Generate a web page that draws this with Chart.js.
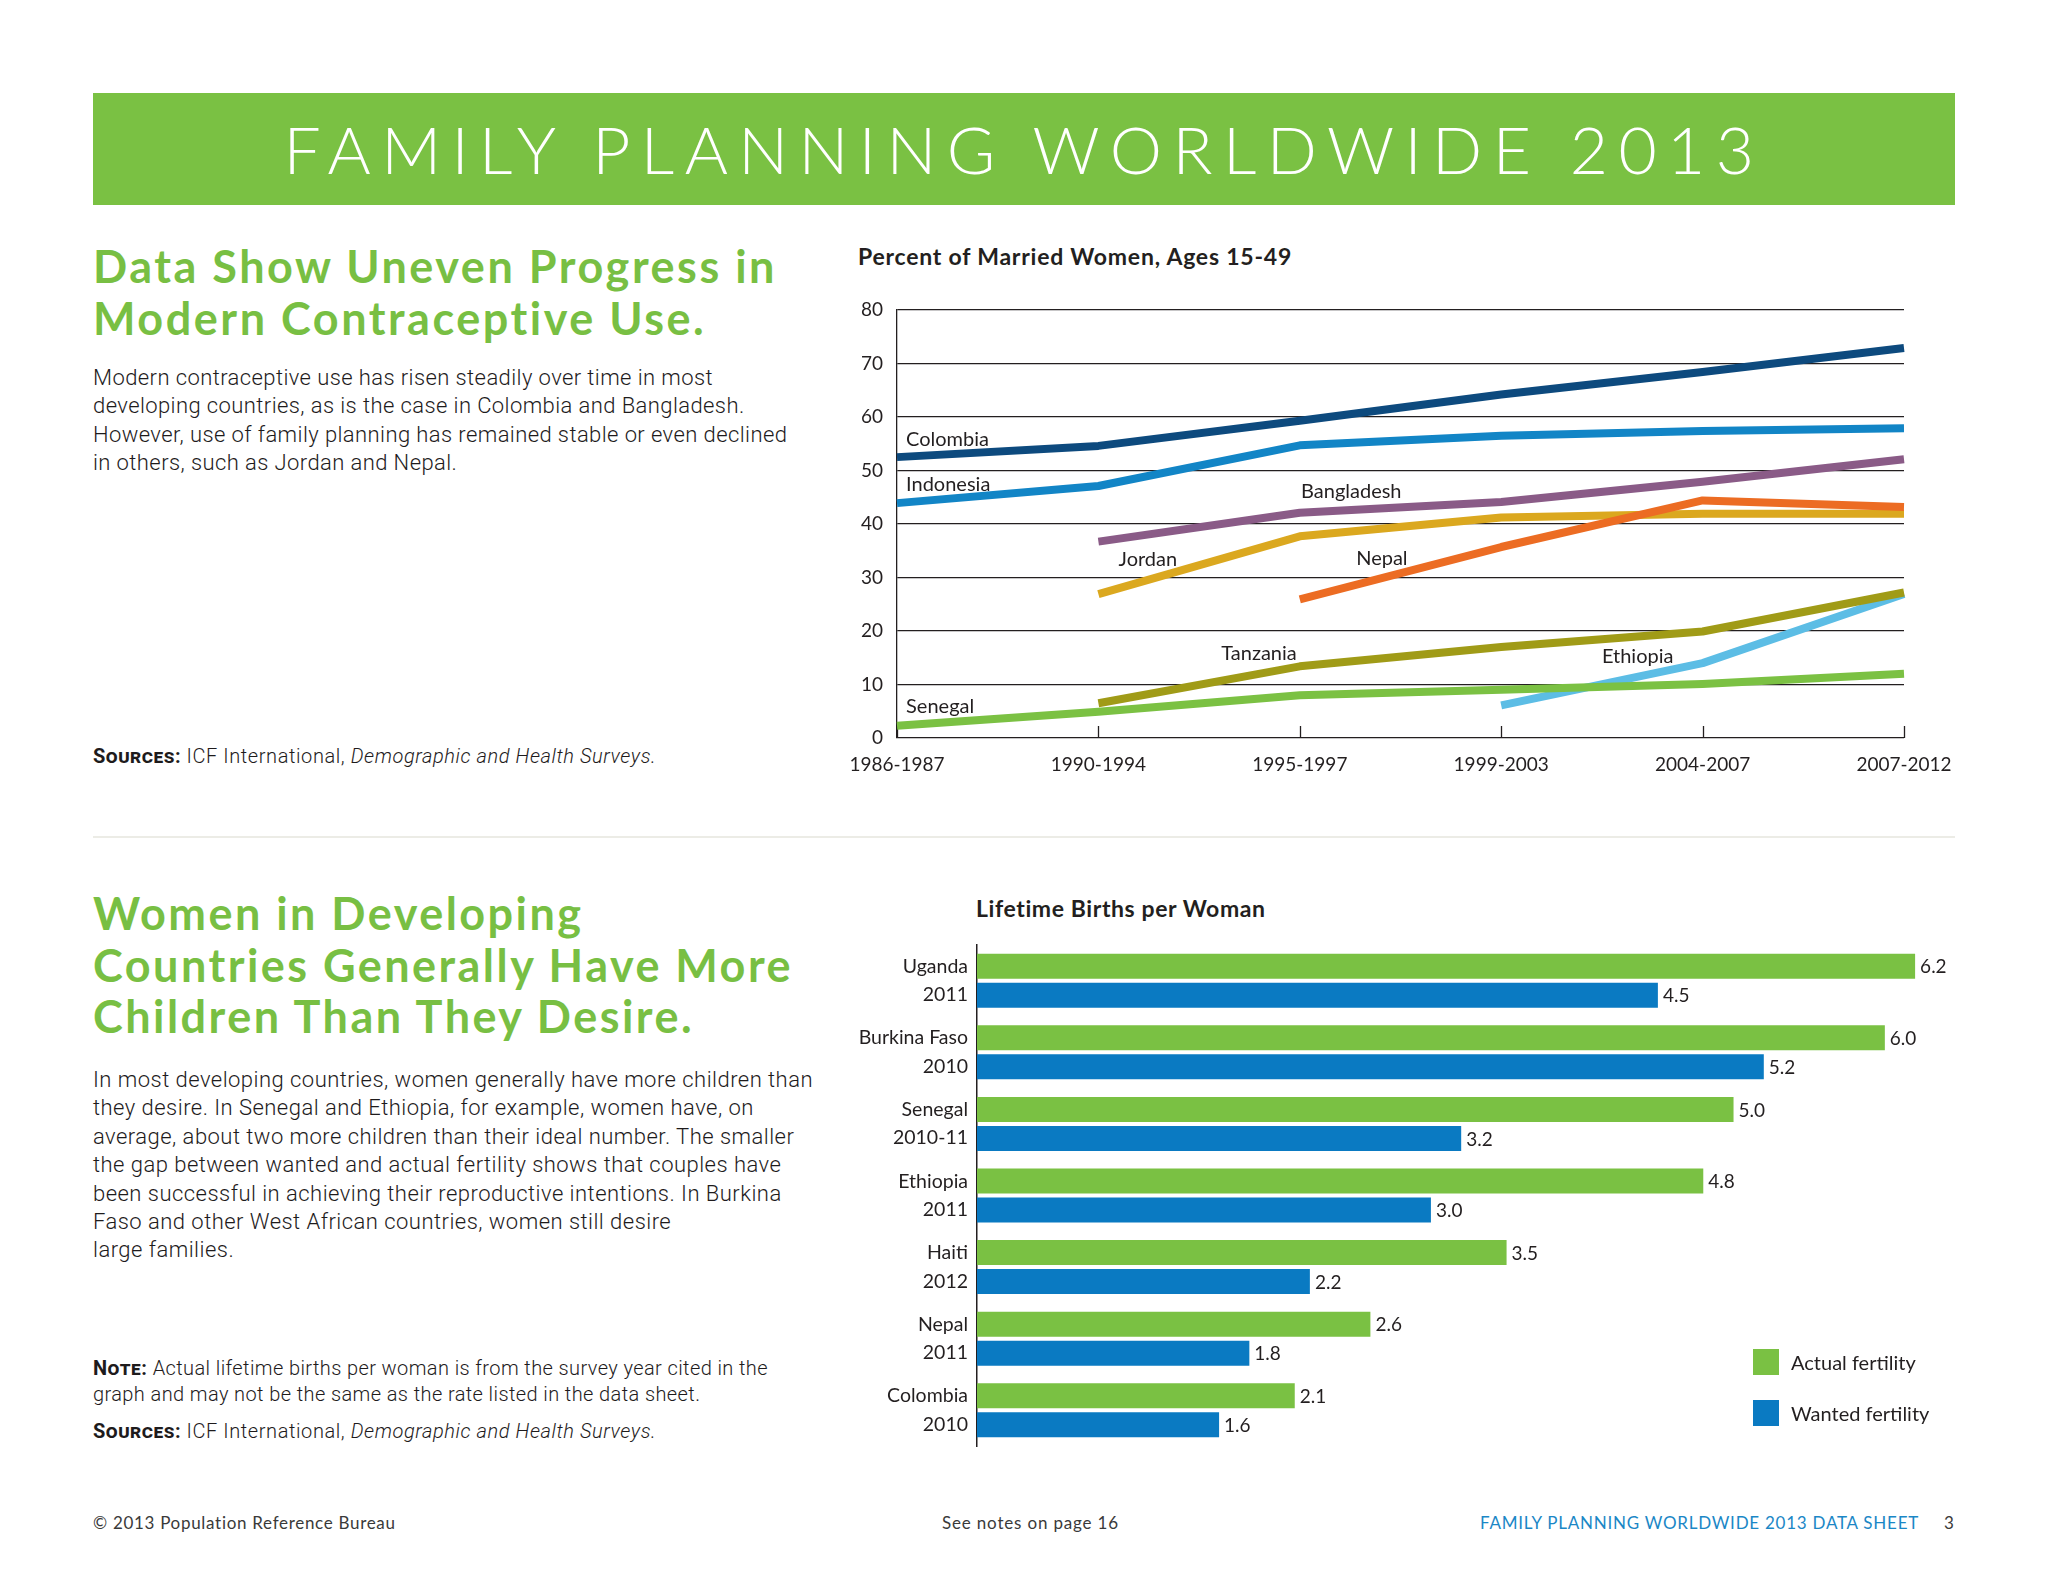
<!DOCTYPE html>
<html>
<head>
<meta charset="utf-8">
<title>Family Planning Worldwide 2013</title>
<script src="https://cdn.jsdelivr.net/npm/chart.js@4.4.2/dist/chart.umd.min.js"></script>
<style>
  html, body { margin: 0; padding: 0; background: #fff; }
  body { width: 2048px; height: 1582px; position: relative; overflow: hidden; color: #231f20; }
  .abs { position: absolute; white-space: nowrap; }
  .banner { left: 93px; top: 93px; width: 1862px; height: 112px; background: #7ac143; }
  .banner-text { left: 93px; width: 1862px; top: 105px; text-align: center; font: 300 66px/88px Lato, sans-serif; color: #fff; }
  .head { font: 700 45px/52px Lato, sans-serif; color: #78bf43; }
  .body { font: 300 22px/28.4px Roboto, "Liberation Sans", sans-serif; color: #1e1b1c; }
  .small { font: 300 20px/26px Roboto, "Liberation Sans", sans-serif; color: #1e1b1c; }
  .sc { font-variant: small-caps; font-weight: 700; letter-spacing: 0.5px; }
  .rule { left: 93px; top: 836px; width: 1862px; height: 2px; background: #ecece6; }
  .ctitle { font: 700 23px/30px Lato, sans-serif; color: #231f20; }
  .foot { font: 17px/24px Lato, sans-serif; color: #3a3a3a; }
  .swatch { width: 26px; height: 26px; }
  .legend { font: 20px/26px Lato, sans-serif; color: #231f20; }
  canvas { position: absolute; }
</style>
</head>
<body>
<div class="abs banner"></div>
<div class="abs banner-text" data-fit="1481"><span class="fit">FAMILY PLANNING WORLDWIDE 2013</span></div>

<div class="abs head" style="left:93px; top:240px;" data-fit="684"><span class="fit">Data Show Uneven Progress in</span><br>Modern Contraceptive Use.</div>
<div class="abs body" style="left:93px; top:364px;" data-fit="620"><span class="fit">Modern contraceptive use has risen steadily over time in most</span><br>developing countries, as is the case in Colombia and Bangladesh.<br>However, use of family planning has remained stable or even declined<br>in others, such as Jordan and Nepal.</div>
<div class="abs small" style="left:93px; top:743px;" data-fit="568"><span class="fit"><span class="sc">Sources:</span> ICF International, <i>Demographic and Health Surveys.</i></span></div>

<div class="abs ctitle" style="left:858px; top:241px;" data-fit="434"><span class="fit">Percent of Married Women, Ages 15-49</span></div>
<canvas id="lineChart" width="1150" height="510" style="left:820px; top:280px;"></canvas>

<div class="abs rule"></div>

<div class="abs head" style="left:93px; top:888px; line-height:51.5px;" data-fit="700">Women in Developing<br><span class="fit">Countries Generally Have More</span><br>Children Than They Desire.</div>
<div class="abs body" style="left:93px; top:1066px;" data-fit="720"><span class="fit">In most developing countries, women generally have more children than</span><br>they desire. In Senegal and Ethiopia, for example, women have, on<br>average, about two more children than their ideal number. The smaller<br>the gap between wanted and actual fertility shows that couples have<br>been successful in achieving their reproductive intentions. In Burkina<br>Faso and other West African countries, women still desire<br>large families.</div>
<div class="abs small" style="left:93px; top:1355px;" data-fit="677"><span class="fit"><span class="sc">Note:</span> Actual lifetime births per woman is from the survey year cited in the</span><br>graph and may not be the same as the rate listed in the data sheet.</div>
<div class="abs small" style="left:93px; top:1418px;" data-fit="568"><span class="fit"><span class="sc">Sources:</span> ICF International, <i>Demographic and Health Surveys.</i></span></div>

<div class="abs ctitle" style="left:976px; top:893px;" data-fit="290"><span class="fit">Lifetime Births per Woman</span></div>
<canvas id="barChart" width="1130" height="591" style="left:840px; top:900px;"></canvas>

<div class="abs swatch" style="left:1753px; top:1349px; background:#7ac143;"></div>
<div class="abs legend" style="left:1791px; top:1349px;">Actual fertility</div>
<div class="abs swatch" style="left:1753px; top:1400px; background:#0a7ac2;"></div>
<div class="abs legend" style="left:1791px; top:1400px;">Wanted fertility</div>

<div class="abs foot" style="left:93px; top:1511px;" data-fit="303"><span class="fit">© 2013 Population Reference Bureau</span></div>
<div class="abs foot" style="left:942px; top:1511px;" data-fit="177"><span class="fit">See notes on page 16</span></div>
<div class="abs foot" style="left:1480px; top:1511px; color:#1b87c6;" data-fit="439"><span class="fit">FAMILY PLANNING WORLDWIDE 2013 DATA SHEET</span></div>
<div class="abs foot" style="left:1944px; top:1511px;">3</div>

<script>
// --- Données : courbes (% de femmes mariées 15-49 ans) ---
const periods = ['1986-1987', '1990-1994', '1995-1997', '1999-2003', '2004-2007', '2007-2012'];
const colombia   = [52.5, 54.6, 59.3, 64.2, 68.4, 72.9];
const indonesia  = [43.9, 47.1, 54.7, 56.5, 57.4, 57.9];
const bangladesh = [null, 36.7, 42.1, 44.1, 47.9, 52.1];
const jordan     = [null, 26.9, 37.7, 41.2, 41.9, 41.9];
const nepal      = [null, null, 25.9, 35.7, 44.4, 43.2];
const tanzania   = [null, 6.5, 13.4, 17.0, 19.9, 27.2];
const ethiopia   = [null, null, null, 6.1, 14.0, 26.9];
const senegal    = [2.3, 4.9, 8.0, 9.0, 10.1, 12.0];
const percentMin = 0;
const percentMax = 80;
const percentStep = 10;

// --- Données : barres (naissances par femme) ---
const barCountries = [
    ['Uganda', '2011'], ['Burkina Faso', '2010'], ['Senegal', '2010-11'], ['Ethiopia', '2011'],
    ['Haiti', '2012'], ['Nepal', '2011'], ['Colombia', '2010']
];
const actualFertility = [6.2, 6.0, 5.0, 4.8, 3.5, 2.6, 2.1];
const wantedFertility = [4.5, 5.2, 3.2, 3.0, 2.2, 1.8, 1.6];
const seriesNames = ['Actual fertility', 'Wanted fertility'];

// Étiquettes posées dans le graphique (en unités des axes)
const lineLabels = [
    { text: 'Colombia', x: 0.045, y: 55.7 },
    { text: 'Indonesia', x: 0.045, y: 47.3 },
    { text: 'Bangladesh', x: 2.006, y: 46.0 },
    { text: 'Jordan', x: 1.10, y: 33.3 },
    { text: 'Nepal', x: 2.28, y: 33.6 },
    { text: 'Tanzania', x: 1.61, y: 15.7 },
    { text: 'Ethiopia', x: 3.50, y: 15.3 },
    { text: 'Senegal', x: 0.045, y: 5.8 }
];

const INK = '#231f20';
Chart.defaults.font.family = 'Lato';
Chart.defaults.color = INK;

// ajuste l'espacement des lettres pour caler la largeur des textes
document.querySelectorAll('[data-fit]').forEach(el => {
    const line = el.querySelector('.fit');
    const w = line.getBoundingClientRect().width;
    const n = line.textContent.length;
    el.style.letterSpacing = ((+el.dataset.fit - w) / n) + 'px';
});

const lineExtras = {
    id: 'lineExtras',
    beforeDatasetsDraw(chart) {
        const { ctx, scales: { x, y } } = chart;
        const base = y.getPixelForValue(0);
        ctx.save();
        ctx.strokeStyle = INK;
        ctx.lineWidth = 1.3;
        periods.forEach((p, i) => {
            const px = Math.round(x.getPixelForTick(i)) + 0.5;
            ctx.beginPath();
            ctx.moveTo(px, base);
            ctx.lineTo(px, base - 12);
            ctx.stroke();
        });
        ctx.restore();
    },
    afterDatasetsDraw(chart) {
        const { ctx, scales: { x, y } } = chart;
        ctx.save();
        ctx.font = '20px Lato';
        ctx.fillStyle = INK;
        ctx.textBaseline = 'middle';
        lineLabels.forEach(l => ctx.fillText(l.text, x.getPixelForValue(l.x), y.getPixelForValue(l.y)));
        ctx.restore();
    }
};

function lineSet(label, data, color) {
    return {
        label, data, borderColor: color, backgroundColor: color,
        borderWidth: 8, pointRadius: 0, tension: 0,
        borderCapStyle: 'butt', borderJoinStyle: 'round'
    };
}

new Chart(document.getElementById('lineChart'), {
    type: 'line',
    data: {
        labels: periods,
        datasets: [
            lineSet('Nepal', nepal, '#ec6c23'),
            lineSet('Colombia', colombia, '#0d4a7e'),
            lineSet('Indonesia', indonesia, '#1285c6'),
            lineSet('Bangladesh', bangladesh, '#8a5b87'),
            lineSet('Jordan', jordan, '#dba81f'),
            lineSet('Tanzania', tanzania, '#a09b17'),
            lineSet('Senegal', senegal, '#7bc143'),
            lineSet('Ethiopia', ethiopia, '#5cbde5')
        ]
    },
    options: {
        responsive: false,
        animation: false,
        layout: { padding: { left: 0, top: 30, right: 66, bottom: 0 } },
        plugins: { legend: { display: false }, tooltip: { enabled: false } },
        scales: {
            x: {
                offset: false,
                grid: { display: false },
                border: { display: false },
                ticks: { font: { size: 19 }, color: INK, padding: 7, maxRotation: 0, autoSkip: false },
                afterFit(s) { s.height = 52; }
            },
            y: {
                min: percentMin, max: percentMax,
                grid: { color: INK, lineWidth: 1.3, drawTicks: false },
                border: { display: true, color: INK, width: 1.3 },
                ticks: { stepSize: percentStep, font: { size: 19 }, color: INK, padding: 14 },
                afterFit(s) { s.width = 77; }
            }
        }
    },
    plugins: [lineExtras]
});

const barValues = {
    id: 'barValues',
    afterDatasetsDraw(chart) {
        const { ctx } = chart;
        ctx.save();
        ctx.font = '19px Lato';
        ctx.fillStyle = INK;
        ctx.textBaseline = 'middle';
        chart.data.datasets.forEach((ds, di) => {
            chart.getDatasetMeta(di).data.forEach((bar, i) => {
                ctx.fillText(ds.data[i].toFixed(1), bar.x + 5, bar.y + 1);
            });
        });
        ctx.restore();
    }
};

new Chart(document.getElementById('barChart'), {
    type: 'bar',
    data: {
        labels: barCountries,
        datasets: [
            { label: seriesNames[0], data: actualFertility, backgroundColor: '#7ac143', categoryPercentage: 0.81, barPercentage: 0.862 },
            { label: seriesNames[1], data: wantedFertility, backgroundColor: '#0a7ac2', categoryPercentage: 0.81, barPercentage: 0.862 }
        ]
    },
    options: {
        indexAxis: 'y',
        responsive: false,
        animation: false,
        layout: { padding: { left: 0, top: 45, right: 9.5, bottom: 45 } },
        plugins: { legend: { display: false }, tooltip: { enabled: false } },
        scales: {
            x: { display: false, min: 0, max: 6.5 },
            y: {
                grid: { display: false, drawTicks: false },
                border: { display: true, color: INK, width: 1.5 },
                ticks: { font: { size: 19.5, lineHeight: 1.46 }, color: INK, padding: 9 },
                afterFit(s) { s.width = 137; }
            }
        }
    },
    plugins: [barValues]
});
</script>
</body>
</html>
